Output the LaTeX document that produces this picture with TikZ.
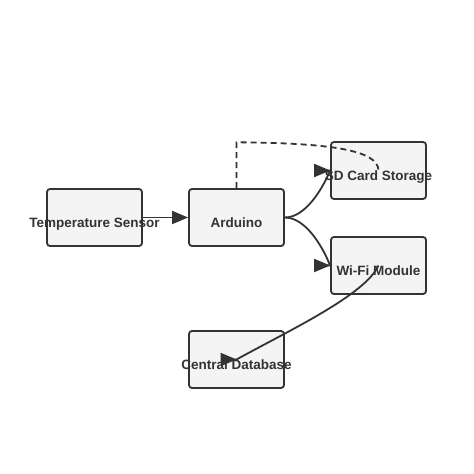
\documentclass[tikz,border=0pt]{standalone}
\usepackage{fontspec}
\setmainfont{Liberation Sans}
\usetikzlibrary{arrows.meta}
\definecolor{ink}{HTML}{333333}
\definecolor{boxfill}{HTML}{F4F4F4}
\newcommand{\boxlabel}[1]{\makebox[0pt]{#1}}
\begin{document}
\begin{tikzpicture}[x=1pt,y=1pt]
\tikzstyle{every node}+=[inner sep=0pt]
\tikzstyle{block}=[draw=ink, fill=boxfill, line width=1.8pt, rounded corners=3pt, minimum width=95pt, minimum height=57pt, text=ink, font=\fontsize{13.5}{16}\selectfont\bfseries, text height=23pt, text depth=3pt]
\tikzstyle{link}=[ink, line width=1.8pt, -{Triangle[length=16pt,width=13pt]}]
\tikzstyle{dashlink}=[ink, line width=1.8pt, dash pattern=on 6pt off 4pt]
\useasboundingbox (0,0) rectangle (474,-474);
\node [block] (temp) at (94.5,-217.5) {\boxlabel{Temperature Sensor}};
\node [block] (ard) at (236.5,-217.5) {\boxlabel{Arduino}};
\node [block] (sd) at (378.5,-170.5) {\boxlabel{SD Card Storage}};
\node [block] (wifi) at (378.5,-265.5) {\boxlabel{Wi-Fi Module}};
\node [block] (db) at (236.5,-359.5) {\boxlabel{Central Database}};
\coordinate (dcorner) at (236.5,-142.3);
\draw [link] (temp) -- (ard);
\draw [link] (ard.east) .. controls (305,-217.5) and (322,-190) .. (sd.west) -- ++(0.1,0);
\draw [link] (ard.east) .. controls (305,-217.5) and (322,-245) .. (wifi.west) -- ++(0.1,0);
\draw [link] (wifi.center) .. controls (365,-295) and (290,-330) .. (db.center) -- ++(0.1,0);
\draw [dashlink] (ard.north) -- (dcorner) .. controls (330,-143) and (378,-150) .. (sd.center);
\end{tikzpicture}
\end{document}
